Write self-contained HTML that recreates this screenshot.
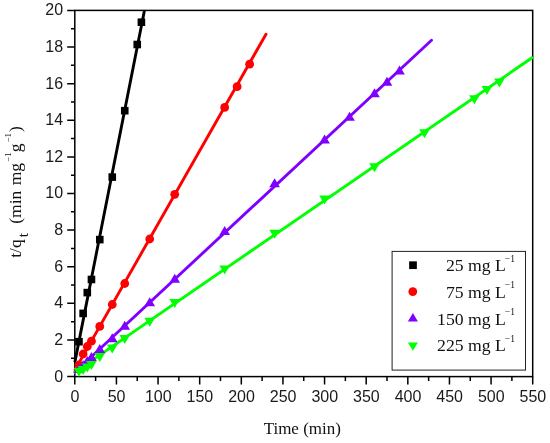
<!DOCTYPE html><html><head><meta charset="utf-8"><style>html,body{margin:0;padding:0;background:#fff;}svg{display:block;}.tk{font-family:"Liberation Sans",Arial,sans-serif;font-size:16px;fill:#1a1a1a;}.sf{font-family:"Liberation Serif","Times New Roman",serif;fill:#111;}</style></head><body>
<svg width="550" height="443" viewBox="0 0 550 443">
<rect width="550" height="443" fill="#fff"/>
<rect x="74.80" y="10.40" width="457.90" height="366.20" fill="none" stroke="#000" stroke-width="1.5"/>
<path d="M67.20,376.60H74.80M71.00,358.29H74.80M67.20,339.98H74.80M71.00,321.67H74.80M67.20,303.36H74.80M71.00,285.05H74.80M67.20,266.74H74.80M71.00,248.43H74.80M67.20,230.12H74.80M71.00,211.81H74.80M67.20,193.50H74.80M71.00,175.19H74.80M67.20,156.88H74.80M71.00,138.57H74.80M67.20,120.26H74.80M71.00,101.95H74.80M67.20,83.64H74.80M71.00,65.33H74.80M67.20,47.02H74.80M71.00,28.71H74.80M67.20,10.40H74.80M74.80,376.60V384.50M95.61,376.60V380.90M116.43,376.60V384.50M137.24,376.60V380.90M158.05,376.60V384.50M178.87,376.60V380.90M199.68,376.60V384.50M220.50,376.60V380.90M241.31,376.60V384.50M262.12,376.60V380.90M282.94,376.60V384.50M303.75,376.60V380.90M324.56,376.60V384.50M345.38,376.60V380.90M366.19,376.60V384.50M387.00,376.60V380.90M407.82,376.60V384.50M428.63,376.60V380.90M449.45,376.60V384.50M470.26,376.60V380.90M491.07,376.60V384.50M511.89,376.60V380.90M532.70,376.60V384.50" stroke="#000" stroke-width="1.5" fill="none"/>
<g>
<line x1="75" y1="361.4" x2="144.2" y2="11.7" stroke="#000" stroke-width="2.9" stroke-linecap="round"/>
<line x1="75" y1="369.9" x2="266.0" y2="34.2" stroke="#ff0000" stroke-width="2.9" stroke-linecap="round"/>
<line x1="75" y1="372.0" x2="431.5" y2="40.2" stroke="#8000ff" stroke-width="2.9" stroke-linecap="round"/>
<line x1="75" y1="372.1" x2="532.0" y2="57.8" stroke="#00ff00" stroke-width="2.9" stroke-linecap="round"/>
<rect x="75.16" y="337.90" width="7.6" height="7.6" fill="#000"/>
<rect x="79.33" y="309.60" width="7.6" height="7.6" fill="#000"/>
<rect x="83.49" y="288.80" width="7.6" height="7.6" fill="#000"/>
<rect x="87.65" y="275.70" width="7.6" height="7.6" fill="#000"/>
<rect x="95.98" y="235.80" width="7.6" height="7.6" fill="#000"/>
<rect x="108.46" y="173.30" width="7.6" height="7.6" fill="#000"/>
<rect x="120.95" y="106.90" width="7.6" height="7.6" fill="#000"/>
<rect x="133.44" y="40.70" width="7.6" height="7.6" fill="#000"/>
<rect x="137.60" y="18.40" width="7.6" height="7.6" fill="#000"/>
<circle cx="78.96" cy="365.00" r="4.4" fill="#ff0000"/>
<circle cx="83.13" cy="354.00" r="4.4" fill="#ff0000"/>
<circle cx="87.29" cy="346.50" r="4.4" fill="#ff0000"/>
<circle cx="91.45" cy="341.20" r="4.4" fill="#ff0000"/>
<circle cx="99.78" cy="326.40" r="4.4" fill="#ff0000"/>
<circle cx="112.26" cy="304.50" r="4.4" fill="#ff0000"/>
<circle cx="124.75" cy="283.50" r="4.4" fill="#ff0000"/>
<circle cx="149.73" cy="239.00" r="4.4" fill="#ff0000"/>
<circle cx="174.71" cy="194.30" r="4.4" fill="#ff0000"/>
<circle cx="224.66" cy="107.40" r="4.4" fill="#ff0000"/>
<circle cx="237.15" cy="86.70" r="4.4" fill="#ff0000"/>
<circle cx="249.63" cy="64.20" r="4.4" fill="#ff0000"/>
<polygon points="73.66,373.00 84.26,373.00 78.96,364.00" fill="#8000ff"/>
<polygon points="77.83,369.00 88.43,369.00 83.13,360.00" fill="#8000ff"/>
<polygon points="81.99,364.90 92.59,364.90 87.29,355.90" fill="#8000ff"/>
<polygon points="86.15,361.00 96.75,361.00 91.45,352.00" fill="#8000ff"/>
<polygon points="94.48,352.90 105.08,352.90 99.78,343.90" fill="#8000ff"/>
<polygon points="106.96,342.30 117.56,342.30 112.26,333.30" fill="#8000ff"/>
<polygon points="119.45,329.80 130.05,329.80 124.75,320.80" fill="#8000ff"/>
<polygon points="144.43,306.20 155.03,306.20 149.73,297.20" fill="#8000ff"/>
<polygon points="169.41,282.70 180.01,282.70 174.71,273.70" fill="#8000ff"/>
<polygon points="219.36,235.00 229.96,235.00 224.66,226.00" fill="#8000ff"/>
<polygon points="269.31,187.20 279.91,187.20 274.61,178.20" fill="#8000ff"/>
<polygon points="319.26,143.40 329.86,143.40 324.56,134.40" fill="#8000ff"/>
<polygon points="344.24,120.70 354.84,120.70 349.54,111.70" fill="#8000ff"/>
<polygon points="369.22,97.30 379.82,97.30 374.52,88.30" fill="#8000ff"/>
<polygon points="381.70,85.70 392.30,85.70 387.00,76.70" fill="#8000ff"/>
<polygon points="394.19,74.50 404.79,74.50 399.49,65.50" fill="#8000ff"/>
<polygon points="73.66,367.80 84.26,367.80 78.96,376.80" fill="#00ff00"/>
<polygon points="77.83,366.00 88.43,366.00 83.13,375.00" fill="#00ff00"/>
<polygon points="81.99,363.50 92.59,363.50 87.29,372.50" fill="#00ff00"/>
<polygon points="86.15,360.90 96.75,360.90 91.45,369.90" fill="#00ff00"/>
<polygon points="94.48,353.10 105.08,353.10 99.78,362.10" fill="#00ff00"/>
<polygon points="106.96,344.40 117.56,344.40 112.26,353.40" fill="#00ff00"/>
<polygon points="119.45,335.00 130.05,335.00 124.75,344.00" fill="#00ff00"/>
<polygon points="144.43,317.80 155.03,317.80 149.73,326.80" fill="#00ff00"/>
<polygon points="169.41,298.90 180.01,298.90 174.71,307.90" fill="#00ff00"/>
<polygon points="219.36,265.60 229.96,265.60 224.66,274.60" fill="#00ff00"/>
<polygon points="269.31,229.80 279.91,229.80 274.61,238.80" fill="#00ff00"/>
<polygon points="319.26,195.50 329.86,195.50 324.56,204.50" fill="#00ff00"/>
<polygon points="369.22,163.30 379.82,163.30 374.52,172.30" fill="#00ff00"/>
<polygon points="419.17,129.30 429.77,129.30 424.47,138.30" fill="#00ff00"/>
<polygon points="469.12,95.20 479.72,95.20 474.42,104.20" fill="#00ff00"/>
<polygon points="481.61,86.10 492.21,86.10 486.91,95.10" fill="#00ff00"/>
<polygon points="494.10,78.40 504.70,78.40 499.40,87.40" fill="#00ff00"/>
</g>
<text class="tk" x="63.1" y="381.50" text-anchor="end">0</text>
<text class="tk" x="63.1" y="344.88" text-anchor="end">2</text>
<text class="tk" x="63.1" y="308.26" text-anchor="end">4</text>
<text class="tk" x="63.1" y="271.64" text-anchor="end">6</text>
<text class="tk" x="63.1" y="235.02" text-anchor="end">8</text>
<text class="tk" x="63.1" y="198.40" text-anchor="end">10</text>
<text class="tk" x="63.1" y="161.78" text-anchor="end">12</text>
<text class="tk" x="63.1" y="125.16" text-anchor="end">14</text>
<text class="tk" x="63.1" y="88.54" text-anchor="end">16</text>
<text class="tk" x="63.1" y="51.92" text-anchor="end">18</text>
<text class="tk" x="63.1" y="15.30" text-anchor="end">20</text>
<text class="tk" x="75.00" y="401.5" text-anchor="middle">0</text>
<text class="tk" x="116.63" y="401.5" text-anchor="middle">50</text>
<text class="tk" x="158.25" y="401.5" text-anchor="middle">100</text>
<text class="tk" x="199.88" y="401.5" text-anchor="middle">150</text>
<text class="tk" x="241.51" y="401.5" text-anchor="middle">200</text>
<text class="tk" x="283.14" y="401.5" text-anchor="middle">250</text>
<text class="tk" x="324.76" y="401.5" text-anchor="middle">300</text>
<text class="tk" x="366.39" y="401.5" text-anchor="middle">350</text>
<text class="tk" x="408.02" y="401.5" text-anchor="middle">400</text>
<text class="tk" x="449.65" y="401.5" text-anchor="middle">450</text>
<text class="tk" x="491.27" y="401.5" text-anchor="middle">500</text>
<text class="tk" x="532.90" y="401.5" text-anchor="middle">550</text>
<text class="sf" x="302.3" y="433.8" text-anchor="middle" font-size="17">Time (min)</text>
<text class="sf" font-size="17.5" transform="translate(21.3,257.8) rotate(-90)">t/q<tspan font-size="15.5" dy="7.0" dx="2.0">t</tspan><tspan dy="-7.0" dx="4.9"> (min</tspan><tspan dx="1"> mg</tspan><tspan font-size="9" dy="-10.5" dx="1">&#8722;1</tspan><tspan dy="10.5">g</tspan><tspan font-size="9" dy="-10.5" dx="1">&#8722;1</tspan><tspan dy="10.5" dx="1">)</tspan></text>
<rect x="392.1" y="251.4" width="133.4" height="118.7" fill="#fff" stroke="#222" stroke-width="1"/>
<rect x="409.15" y="261.35" width="7.7" height="7.7" fill="#000"/>
<circle cx="412.80" cy="291.60" r="4.4" fill="#ff0000"/>
<polygon points="407.90,321.40 417.90,321.40 412.90,313.00" fill="#8000ff"/>
<polygon points="407.90,342.40 417.90,342.40 412.90,350.80" fill="#00ff00"/>
<text class="sf" font-size="17.7" x="505.9" y="271.30" text-anchor="end">25 mg L</text>
<text class="sf" font-size="9.5" x="504.8" y="261.60">&#8722;1</text>
<text class="sf" font-size="17.7" x="505.9" y="297.95" text-anchor="end">75 mg L</text>
<text class="sf" font-size="9.5" x="504.8" y="288.25">&#8722;1</text>
<text class="sf" font-size="17.7" x="505.9" y="324.60" text-anchor="end">150 mg L</text>
<text class="sf" font-size="9.5" x="504.8" y="314.90">&#8722;1</text>
<text class="sf" font-size="17.7" x="505.9" y="351.25" text-anchor="end">225 mg L</text>
<text class="sf" font-size="9.5" x="504.8" y="341.55">&#8722;1</text>
</svg></body></html>
